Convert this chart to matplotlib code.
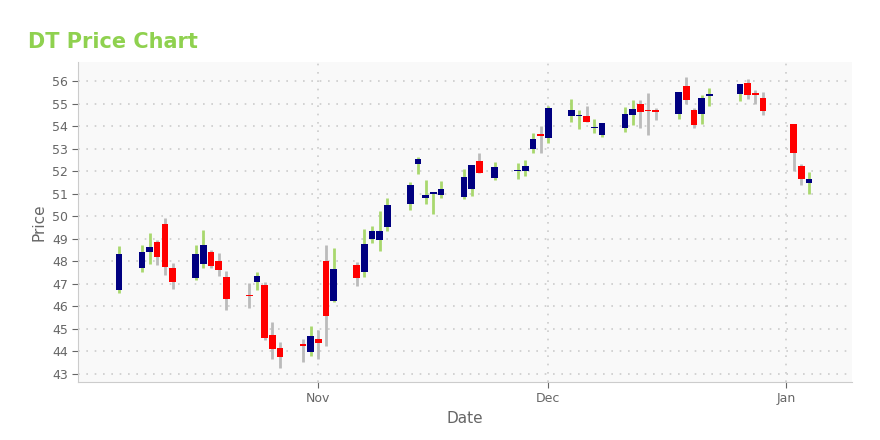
import pandas as pd
import matplotlib
matplotlib.use("Agg")
import matplotlib.pyplot as plt
import matplotlib.dates as mdates

dates = ["2023-10-06", "2023-10-09", "2023-10-10", "2023-10-11", "2023-10-12", "2023-10-13",
         "2023-10-16", "2023-10-17", "2023-10-18", "2023-10-19", "2023-10-20",
         "2023-10-23", "2023-10-24", "2023-10-25", "2023-10-26", "2023-10-27",
         "2023-10-30", "2023-10-31", "2023-11-01", "2023-11-02", "2023-11-03",
         "2023-11-06", "2023-11-07", "2023-11-08", "2023-11-09", "2023-11-10",
         "2023-11-13", "2023-11-14", "2023-11-15", "2023-11-16", "2023-11-17",
         "2023-11-20", "2023-11-21", "2023-11-22", "2023-11-24",
         "2023-11-27", "2023-11-28", "2023-11-29", "2023-11-30", "2023-12-01",
         "2023-12-04", "2023-12-05", "2023-12-06", "2023-12-07", "2023-12-08",
         "2023-12-11", "2023-12-12", "2023-12-13", "2023-12-14", "2023-12-15",
         "2023-12-18", "2023-12-19", "2023-12-20", "2023-12-21", "2023-12-22",
         "2023-12-26", "2023-12-27", "2023-12-28", "2023-12-29",
         "2024-01-02", "2024-01-03", "2024-01-04"]
opens = [46.73, 47.70, 48.41, 48.86, 49.66, 47.70, 47.26, 47.88, 48.41, 48.01, 47.30,
         46.50, 47.08, 46.95, 44.73, 44.15, 44.30, 43.98, 44.55, 48.01, 46.24,
         47.84, 47.53, 48.99, 48.95, 49.52, 50.54, 52.32, 50.81, 51.00, 50.94,
         50.85, 51.20, 52.45, 51.70, 52.00, 51.99, 52.98, 53.62, 53.47,
         54.45, 54.43, 54.45, 53.90, 53.60, 53.92, 54.49, 54.98, 54.70, 54.72,
         54.54, 55.78, 54.71, 54.54, 55.35, 55.42, 55.90, 55.45, 55.25,
         54.09, 52.23, 51.47]
closes = [48.32, 48.41, 48.63, 48.19, 47.75, 47.08, 48.32, 48.72, 47.79, 47.61, 46.33,
          46.45, 47.35, 44.60, 44.11, 43.76, 44.25, 44.69, 44.38, 45.57, 47.66,
          47.26, 48.77, 49.35, 49.35, 50.50, 51.38, 52.54, 50.94, 51.07, 51.20,
          51.74, 52.27, 51.92, 52.18, 52.05, 52.23, 53.43, 53.58, 54.80,
          54.71, 54.47, 54.18, 53.92, 54.14, 54.54, 54.76, 54.63, 54.65, 54.63,
          55.51, 55.16, 54.05, 55.25, 55.40, 55.87, 55.38, 55.40, 54.67,
          52.80, 51.65, 51.65]
highs = [48.70, 48.72, 49.26, 48.95, 49.92, 47.93, 48.72, 49.39, 48.50, 48.37, 47.57,
         47.04, 47.53, 47.10, 45.31, 44.42, 44.55, 45.13, 44.95, 48.72, 48.60,
         47.97, 49.43, 49.57, 50.23, 50.80, 51.52, 52.63, 51.60, 51.07, 51.56,
         52.10, 52.27, 52.81, 52.40, 52.34, 52.50, 53.70, 54.00, 54.90,
         55.20, 54.72, 54.90, 54.30, 54.14, 54.85, 55.16, 55.16, 55.47, 54.80,
         55.51, 56.18, 54.80, 55.40, 55.69, 55.87, 56.10, 55.60, 55.50,
         54.09, 52.30, 51.97]
lows = [46.60, 47.53, 47.88, 47.84, 47.39, 46.77, 47.17, 47.70, 47.70, 47.35, 45.84,
        45.93, 46.73, 44.50, 43.67, 43.27, 43.53, 43.80, 43.67, 44.24, 46.20,
        46.90, 47.30, 48.80, 48.46, 49.35, 50.28, 51.87, 50.54, 50.10, 50.80,
        50.76, 50.90, 51.92, 51.60, 51.66, 51.80, 52.80, 52.80, 53.25,
        54.18, 53.87, 54.18, 53.70, 53.50, 53.74, 54.05, 53.90, 53.60, 54.25,
        54.30, 54.98, 53.90, 54.10, 54.90, 55.10, 55.20, 55.00, 54.50,
        52.00, 51.40, 51.00]
month_ticks = ["2023-11-01", "2023-12-01", "2024-01-01"]

df = pd.DataFrame({"date": pd.to_datetime(dates), "open": opens, "close": closes,
                   "high": highs, "low": lows})

fig = plt.figure(figsize=(8.8, 4.4), dpi=100)
fig.patch.set_facecolor("white")
ax = fig.add_axes([0.089, 0.132, 0.879, 0.727])
ax.set_facecolor("#f9f9f9")

x = mdates.date2num(df["date"])
up = df["close"] >= df["open"]
for xi, o, c, h, l, u in zip(x, df["open"], df["close"], df["high"], df["low"], up):
    wick = "#a9d86e" if u else "#bbbbbb"
    body = "#000080" if u else "#ff0000"
    ax.vlines(xi, l, h, color=wick, linewidth=2, zorder=2)
    bottom = min(o, c)
    height = max(abs(c - o), 0.06)
    ax.bar(xi, height, bottom=bottom, width=0.85, color=body, zorder=3)

ax.set_xlim(mdates.date2num(pd.Timestamp("2023-09-30 17:00")),
            mdates.date2num(pd.Timestamp("2024-01-09 14:00")))
ax.set_ylim(42.65, 56.84)
ax.set_yticks(range(43, 57))
ax.set_xticks(mdates.date2num(pd.to_datetime(month_ticks)))
ax.xaxis.set_major_formatter(mdates.DateFormatter("%b"))
ax.grid(True, color="#cccccc", linestyle=(0, (1, 4)), linewidth=1.2)
ax.set_axisbelow(True)
for s in ["top", "right"]:
    ax.spines[s].set_visible(False)
ax.spines["left"].set_color("#cccccc")
ax.spines["bottom"].set_color("#cccccc")
ax.tick_params(colors="#666666", labelsize=9, length=4)
ax.set_xlabel("Date", color="#666666", fontsize=11)
ax.set_ylabel("Price", color="#666666", fontsize=11)

fig.text(0.032, 0.89, "DT Price Chart", color="#8fd14f", fontsize=15, fontweight="bold")

fig.savefig("out.png", dpi=100)
